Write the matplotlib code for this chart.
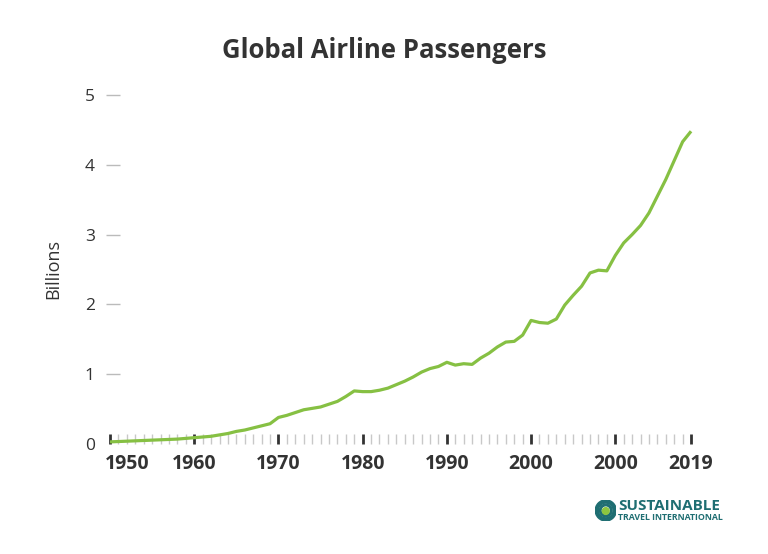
import numpy as np
import matplotlib.pyplot as plt
from matplotlib.patches import Circle, Wedge
from matplotlib.transforms import ScaledTranslation

# Data (billions of passengers)
years = list(range(1950, 2020))
passengers = [
    0.03, 0.035, 0.04, 0.045, 0.05, 0.055, 0.06, 0.065, 0.07, 0.08,   # 1950s
    0.09, 0.10, 0.11, 0.13, 0.15, 0.18, 0.20, 0.23, 0.26, 0.29,       # 1960s
    0.38, 0.41, 0.45, 0.49, 0.51, 0.53, 0.57, 0.61, 0.68, 0.76,       # 1970s
    0.75, 0.75, 0.77, 0.80, 0.85, 0.90, 0.96, 1.03, 1.08, 1.11,       # 1980s
    1.17, 1.13, 1.15, 1.14, 1.23, 1.30, 1.39, 1.46, 1.47, 1.56,       # 1990s
    1.77, 1.74, 1.73, 1.79, 1.99, 2.13, 2.26, 2.45, 2.49, 2.48,       # 2000s
    2.70, 2.88, 3.00, 3.13, 3.31, 3.55, 3.79, 4.06, 4.33, 4.48,       # 2010s
]
major_years = [1950, 1960, 1970, 1980, 1990, 2000, 2010, 2019]
major_labels = ["1950", "1960", "1970", "1980", "1990", "2000", "2000", "2019"]
y_ticks = [0, 1, 2, 3, 4, 5]

plt.rcParams['font.family'] = ['Open Sans', 'DejaVu Sans']
dark = "#333333"

fig = plt.figure(figsize=(7.68, 5.54), dpi=100)
ax = fig.add_axes([0.1378, 0.1986, 0.7675, 0.63])

ax.plot(years, passengers, color="#86c043", linewidth=2.3, clip_on=False,
        solid_capstyle="butt")

ax.set_xlim(1949.5, 2019.5)
ax.set_ylim(0, 5)

for s in ax.spines.values():
    s.set_visible(False)

# x ticks: dark majors, light minor every year
ax.set_xticks(major_years)
ax.set_xticklabels(major_labels, fontsize=14, fontweight="bold", color=dark)
ax.set_xticks([y for y in years if y not in major_years], minor=True)
ax.tick_params(axis="x", which="major", direction="in", length=7.5, width=2,
               color=dark, pad=7)
ax.tick_params(axis="x", which="minor", direction="in", length=7.5, width=1,
               color="#c8c8c8")
# nudge the first label to the right, as in the original
lab = ax.get_xticklabels()[0]
lab.set_transform(lab.get_transform() + ScaledTranslation(0.17, 0, fig.dpi_scale_trans))

# y ticks: light gray dashes, none at zero
ax.set_yticks(y_ticks)
ax.set_yticklabels([str(v) for v in y_ticks], fontsize=12.5, color=dark)
ax.tick_params(axis="y", direction="in", length=10, width=1, color="#bbbbbb", pad=8)
ax.yaxis.get_major_ticks()[0].tick1line.set_visible(False)

ax.set_ylabel("Billions", fontsize=13, color=dark, labelpad=16)

fig.text(0.5, 0.908, "Global Airline Passengers", ha="center", va="center",
         fontsize=18.5, fontweight="bold", color=dark)

# logo
teal = "#1f6e72"
icon = fig.add_axes([0.775, 0.0596, 0.0275, 0.038])
icon.set_xlim(-1, 1)
icon.set_ylim(-1, 1)
icon.set_aspect("equal")
icon.axis("off")
icon.add_patch(Wedge((0, 0), 1.0, 0, 360, width=0.3, color=teal))
icon.add_patch(Wedge((0, 0), 0.6, 0, 360, width=0.15, color=teal))
icon.add_patch(Circle((0, -0.05), 0.32, color="#8dc63f"))
fig.text(0.805, 0.079, "SUSTAINABLE", fontsize=11, fontweight="bold",
         color=teal, va="baseline", ha="left")
fig.text(0.805, 0.062, "TRAVEL INTERNATIONAL", fontsize=6.3, fontweight="bold",
         color=teal, va="baseline", ha="left")

fig.savefig("out.png", dpi=100)
